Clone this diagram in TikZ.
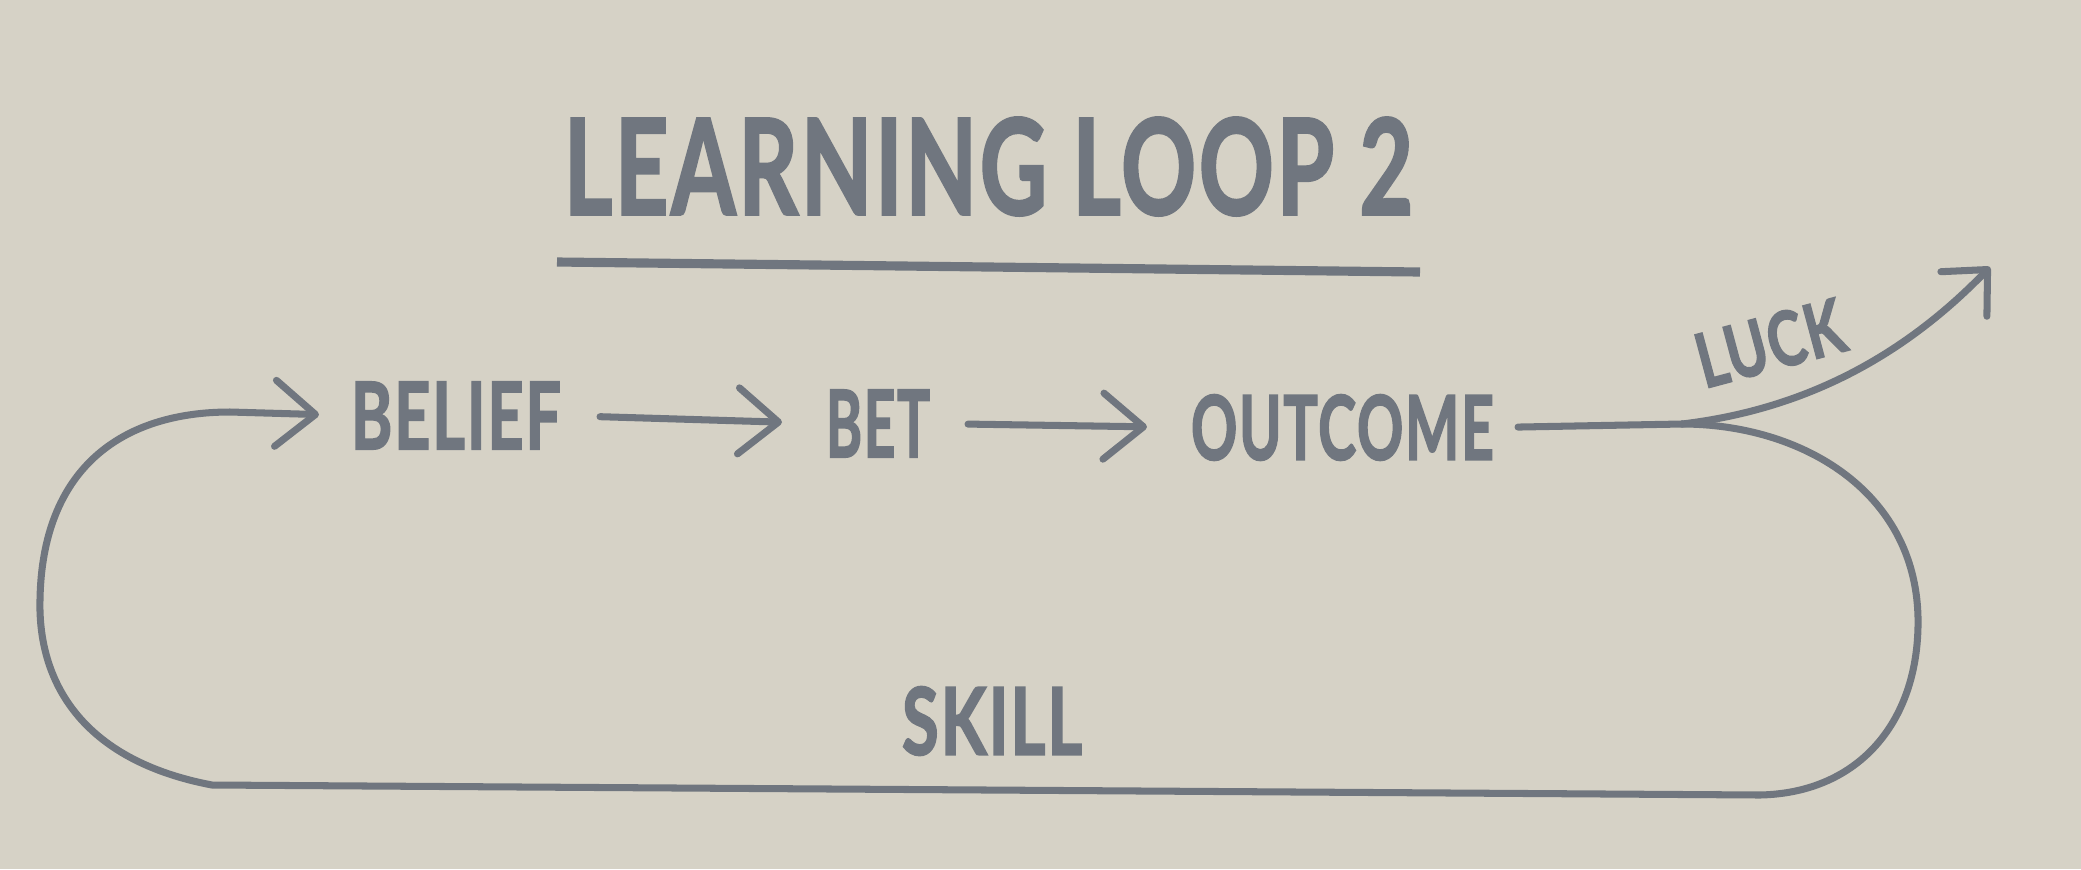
\documentclass[tikz,border=0pt]{standalone}
\usepackage{fontspec}
\usepackage{graphicx}
\usetikzlibrary{arrows.meta}
\newfontfamily\lblfont{Lato}[LetterSpace=3, FakeBold=2.2]
\newdimen\pxu \pxu=0.01cm
\newcommand{\fitlbl}[3]{\resizebox{#1\pxu}{#2\pxu}{\lblfont\bfseries #3}}
\definecolor{paper}{RGB}{214,210,198}
\definecolor{ink}{RGB}{112,118,127}
\tikzset{
  lbl/.style={inner sep=0pt, outer sep=0pt, text=ink},
  conn/.style={draw=ink, line width=2pt, line cap=round, line join=round},
  arr/.style={conn, -{Straight Barb[length=4mm, width=6.6mm, line cap=round, line join=round]}},
  luckarr/.style={conn, -{Straight Barb[length=3.4mm, width=6.4mm, line cap=round, line join=round]}}
}
\begin{document}
\begin{tikzpicture}[x=0.01cm, y=-0.01cm]
\fill[paper] (0,0) rectangle (2081,869);
\useasboundingbox (0,0) rectangle (2081,869);
% title
\node[lbl] (title) at (988.5,166.5) {\fitlbl{849}{97}{LEARNING LOOP 2}};
\coordinate (ulL) at (557,262);
\coordinate (ulR) at (1420,272);
\draw[draw=ink, line width=2.6pt] (ulL) -- (ulR);
% labels
\node[lbl] (belief) at (456,415.5) {\fitlbl{210}{67}{BELIEF}};
\node[lbl] (bet) at (878,423.5) {\fitlbl{104}{67}{BET}};
\node[lbl] (outcome) at (1342.5,427.5) {\fitlbl{303}{65}{OUTCOME}};
\node[lbl] (skill) at (992,721) {\fitlbl{180}{68}{SKILL}};
\node[lbl, rotate=15] (luck) at (1770,343) {\fitlbl{150}{55}{LUCK}};
% connectors
\draw[arr, shorten <=0.39cm, shorten >=0.44cm] (belief.east) -- (bet.west);
\draw[arr, shorten <=0.38cm, shorten >=0.44cm] (bet.east) -- (outcome.west);
\coordinate (br) at (1682,424);
\coordinate (lucktip) at (1990,267);
\draw[conn, shorten <=0.24cm] (outcome.east) -- (br);
\draw[luckarr] (br) .. controls (1800,410) and (1900,360) .. (lucktip);
\draw[arr, shorten >=0.32cm] (br) .. controls (1800,424) and (1915,490) .. (1918,617)
  .. controls (1920,720) and (1860,793) .. (1760,795)
  -- (212,785)
  .. controls (80,760) and (38,680) .. (40,600)
  .. controls (42,470) and (120,412) .. (230,412)
  -- (belief.west);
\end{tikzpicture}
\end{document}
